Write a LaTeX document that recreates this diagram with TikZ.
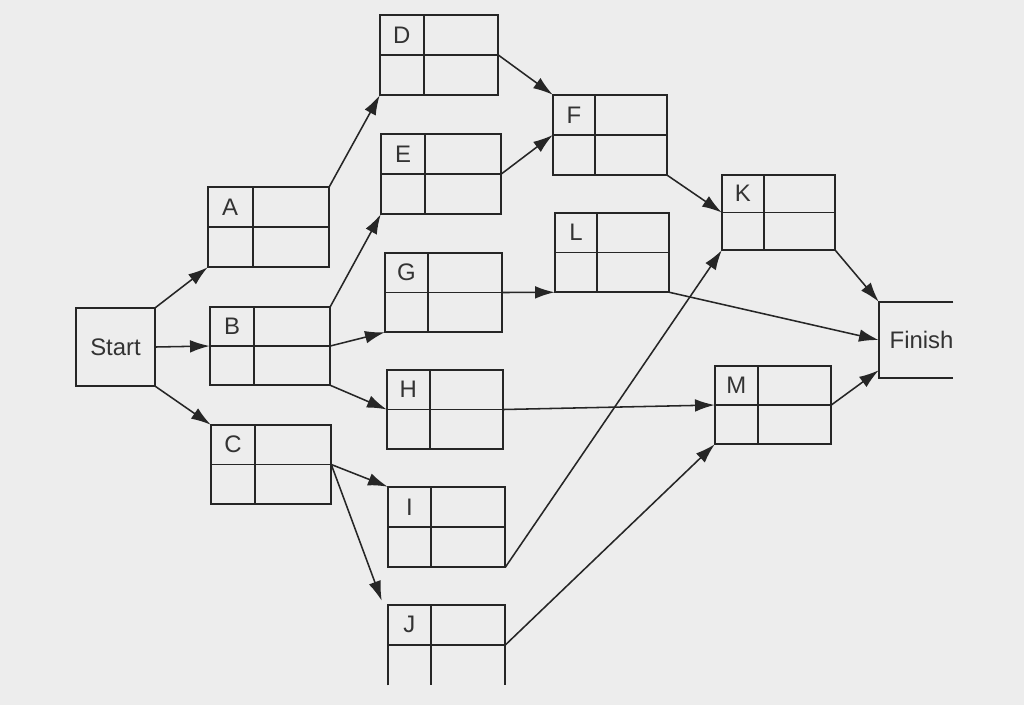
\documentclass[tikz,border=0pt]{standalone}
\usepackage{fontspec}
\setmainfont{Liberation Sans}
\usetikzlibrary{calc,arrows.meta}
\tikzset{
  u/.style={x=0.025cm,y=-0.025cm},
  box/.style={draw=none,inner sep=0pt},
  ln/.style={line width=1.3pt,black!85},
  arr/.style={line width=1.1pt,black!85,-{Latex[length=14pt,width=9pt]}},
  lab/.style={font=\fontsize{17}{20}\selectfont,text=black!80}
}
\newcommand\actbox[6]{%
  \node[box,minimum width=#4*0.025cm,minimum height=#5*0.025cm] (#1) at (#2,#3) {};
  \draw[ln] (#1.north west) rectangle (#1.south east);
  \draw[ln] ($(#1.north west)!0.37!(#1.north east)$) -- ($(#1.south west)!0.37!(#1.south east)$);
  \draw[ln] (#1.west) -- (#1.east);
  \node[lab] (#1l) at ($($(#1.north west)!0.185!(#1.north east)$)!0.25!($(#1.south west)!0.185!(#1.south east)$)$) {#6};
}
\begin{document}
\begin{tikzpicture}[u]
\fill[black!7] (0,0) rectangle (1024,705);
\useasboundingbox (0,0) rectangle (1024,705);
% Start
\node[box,minimum width=79*0.025cm,minimum height=78*0.025cm] (Start) at (115.5,347) {};
\draw[ln] (Start.north west) rectangle (Start.south east);
\node[lab] (Startl) at (Start.center) {Start};
\actbox{A}{268.5}{227}{121}{80}{A}
\actbox{B}{270}{346}{120}{78}{B}
\actbox{C}{271}{464.5}{120}{79}{C}
\actbox{D}{439}{55}{118}{80}{D}
\actbox{E}{441}{174}{120}{80}{E}
\actbox{G}{443.5}{292.5}{117}{79}{G}
\actbox{H}{445}{409.5}{116}{79}{H}
\actbox{I}{446.5}{527}{117}{80}{I}
% J without bottom edge
\node[box,minimum width=117*0.025cm,minimum height=80*0.025cm] (J) at (446.5,645) {};
\draw[ln] (J.south west) -- (J.north west) -- (J.north east) -- (J.south east);
\draw[ln] ($(J.north west)!0.37!(J.north east)$) -- ($(J.south west)!0.37!(J.south east)$);
\draw[ln] (J.west) -- (J.east);
\node[lab] (Jl) at ($($(J.north west)!0.185!(J.north east)$)!0.25!($(J.south west)!0.185!(J.south east)$)$) {J};
\actbox{F}{610}{135}{114}{80}{F}
\actbox{L}{612}{252.5}{114}{79}{L}
\actbox{K}{778.5}{212.5}{113}{75}{K}
\actbox{M}{773}{405}{116}{78}{M}
% Finish open on the right
\node[box,minimum width=74*0.025cm,minimum height=76*0.025cm] (Finish) at (916,340) {};
\draw[ln] (Finish.north east) -- (Finish.north west) -- (Finish.south west) -- (Finish.south east);
\node[lab,anchor=west] (Finishl) at ($(Finish.west)+(6,0)$) {Finish};
% connectors
\draw[arr] (Start.north east) -- (A.south west);
\draw[arr] (Start.east) -- (B.west);
\draw[arr] (Start.south east) -- (C.north west);
\draw[arr] (A.north east) -- (D.south west);
\draw[arr] (B.north east) -- (E.south west);
\draw[arr] (B.east) -- (G.south west);
\draw[arr] (B.south east) -- (H.west);
\draw[arr] (C.east) -- (I.north west);
\draw[arr] (C.east) -- ($(J.north west)+(-6,-4)$);
\draw[arr] (D.east) -- (F.north west);
\draw[arr] (E.east) -- (F.west);
\draw[arr] (F.south east) -- (K.west);
\draw[arr] (G.east) -- (L.south west);
\draw[arr] (L.south east) -- (Finish.west);
\draw[arr] (K.south east) -- (Finish.north west);
\draw[arr] (H.east) -- (M.west);
\draw[arr] (I.south east) -- (K.south west);
\draw[arr] (J.east) -- (M.south west);
\draw[arr] (M.east) -- ($(Finish.south west)+(0,-8)$);
\end{tikzpicture}
\end{document}
